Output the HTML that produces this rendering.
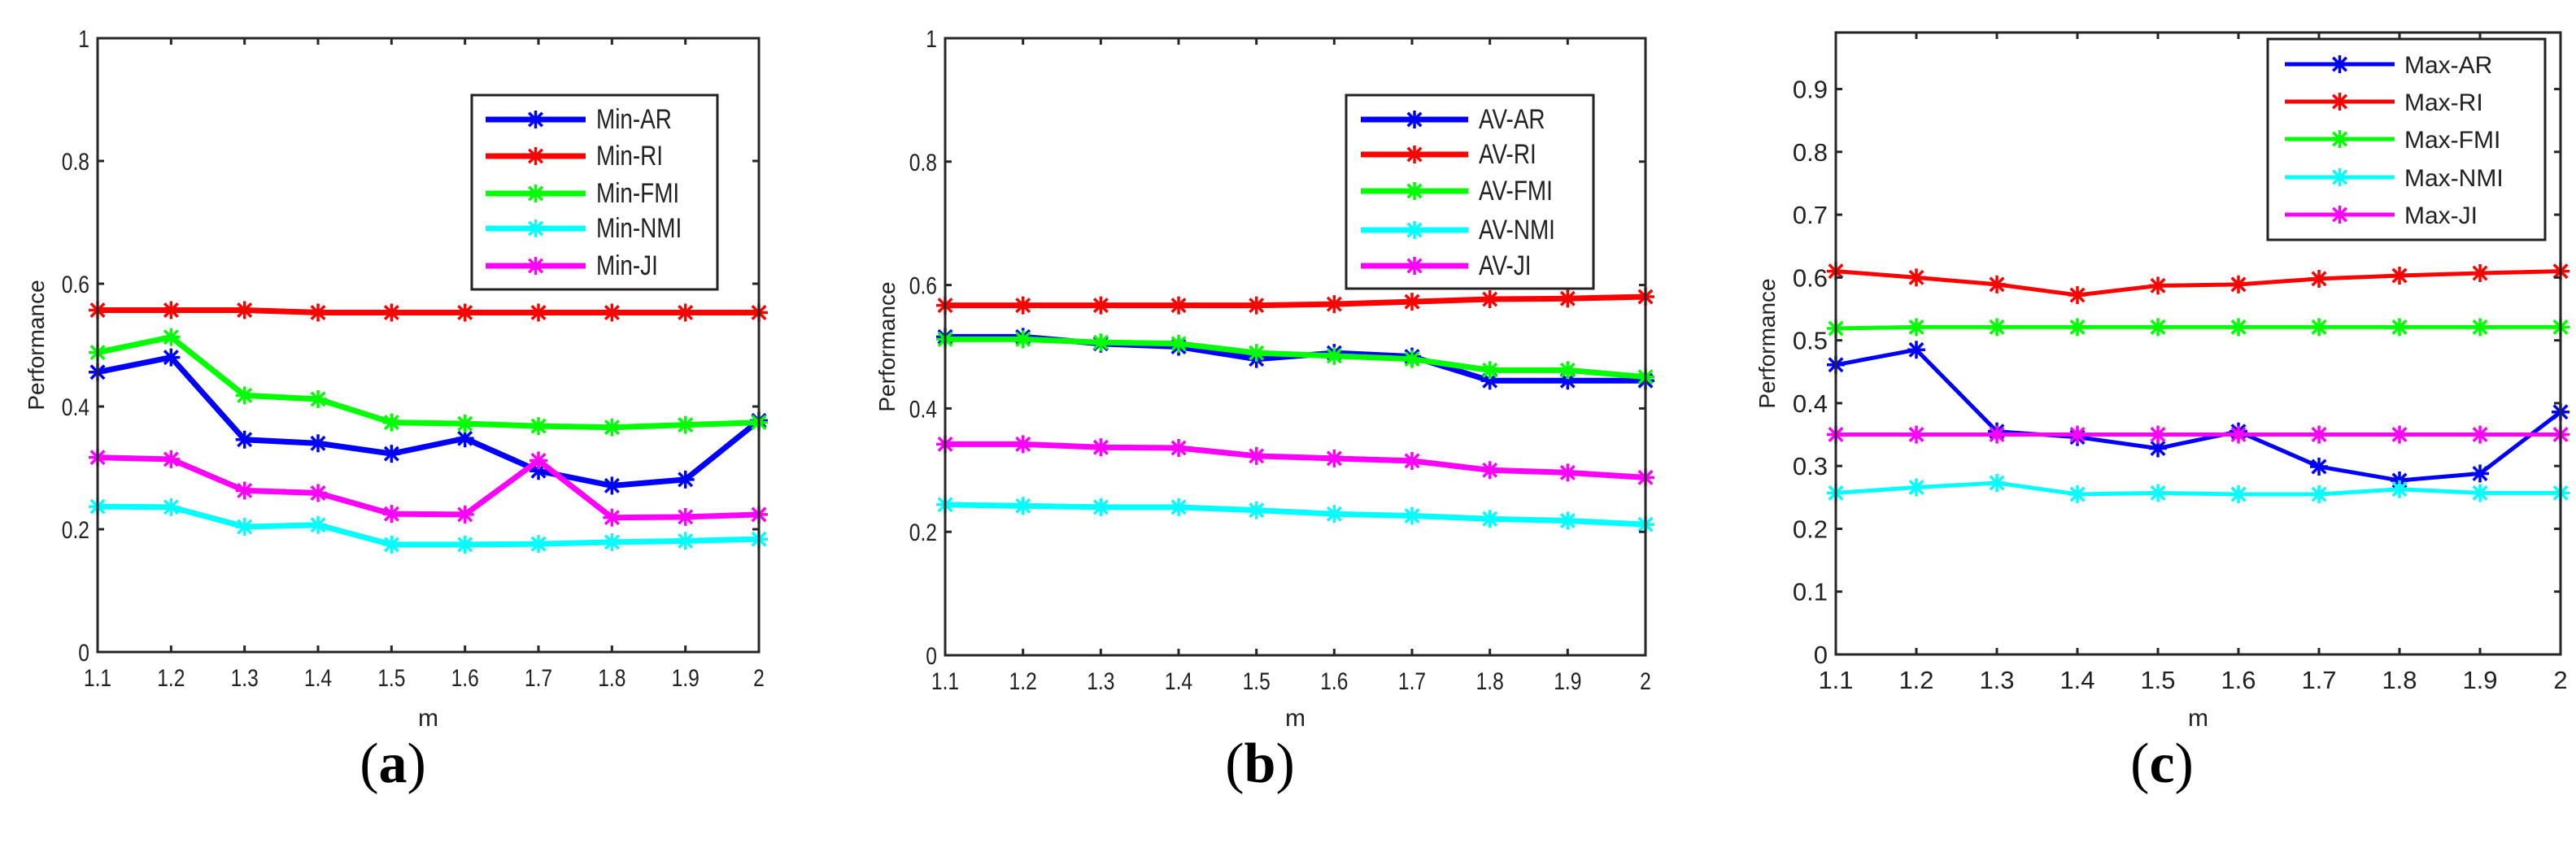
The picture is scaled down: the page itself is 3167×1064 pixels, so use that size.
<!DOCTYPE html>
<html><head><meta charset="utf-8"><style>
html,body{margin:0;padding:0;background:#fff;}
svg{display:block;}
text{font-family:"Liberation Sans",sans-serif;fill:#222;}
.cap{font-family:"Liberation Serif",serif;fill:#000;}
</style></head><body>
<svg id="fig" width="3167" height="1064" viewBox="0 0 3167 1064" xmlns="http://www.w3.org/2000/svg"></svg>
<script>
const categories = [1.1,1.2,1.3,1.4,1.5,1.6,1.7,1.8,1.9,2];
const xTickLabels = ["1.1","1.2","1.3","1.4","1.5","1.6","1.7","1.8","1.9","2"];
const seriesColors = ["#0000ff","#ff0000","#00ff00","#00ffff","#ff00ff"];
const namesA = ["Min-AR","Min-RI","Min-FMI","Min-NMI","Min-JI"];
const namesB = ["AV-AR","AV-RI","AV-FMI","AV-NMI","AV-JI"];
const namesC = ["Max-AR","Max-RI","Max-FMI","Max-NMI","Max-JI"];
const minAR  = [0.456,0.480,0.346,0.340,0.323,0.348,0.295,0.271,0.281,0.377];
const minRI  = [0.557,0.557,0.557,0.553,0.553,0.553,0.553,0.553,0.553,0.553];
const minFMI = [0.488,0.513,0.418,0.412,0.374,0.372,0.368,0.366,0.370,0.374];
const minNMI = [0.237,0.236,0.204,0.207,0.175,0.175,0.176,0.179,0.181,0.184];
const minJI  = [0.317,0.314,0.263,0.259,0.225,0.224,0.312,0.219,0.220,0.224];
const avAR  = [0.516,0.516,0.505,0.500,0.480,0.490,0.484,0.445,0.445,0.445];
const avRI  = [0.567,0.567,0.567,0.567,0.567,0.569,0.573,0.577,0.578,0.581];
const avFMI = [0.512,0.512,0.507,0.505,0.490,0.485,0.480,0.462,0.462,0.451];
const avNMI = [0.244,0.242,0.240,0.240,0.235,0.229,0.226,0.221,0.218,0.212];
const avJI  = [0.342,0.342,0.337,0.336,0.323,0.319,0.315,0.300,0.296,0.288];
const maxAR  = [0.461,0.485,0.355,0.346,0.328,0.355,0.299,0.277,0.288,0.386];
const maxRI  = [0.610,0.600,0.589,0.572,0.587,0.589,0.598,0.603,0.607,0.610];
const maxFMI = [0.519,0.521,0.521,0.521,0.521,0.521,0.521,0.521,0.521,0.521];
const maxNMI = [0.257,0.266,0.273,0.255,0.257,0.255,0.255,0.263,0.257,0.257];
const maxJI  = [0.350,0.350,0.350,0.350,0.350,0.350,0.350,0.350,0.350,0.350];
const yTicksAB = [0,0.2,0.4,0.6,0.8,1];
const yTickLabelsAB = ["0","0.2","0.4","0.6","0.8","1"];
const yTicksC = [0,0.1,0.2,0.3,0.4,0.5,0.6,0.7,0.8,0.9];
const yTickLabelsC = ["0","0.1","0.2","0.3","0.4","0.5","0.6","0.7","0.8","0.9"];

const NS="http://www.w3.org/2000/svg";
const svg=document.getElementById('fig');
function mk(tag,attrs,parent){const e=document.createElementNS(NS,tag);for(const k in attrs)e.setAttribute(k,attrs[k]);(parent||svg).appendChild(e);return e;}

const panels=[
 {id:'a',x0:120,x1:933,yT:47,yB:802,ymax:1,yt:yTicksAB,ytl:yTickLabelsAB,names:namesA,data:[minAR,minRI,minFMI,minNMI,minJI],lw:7,fs:30,sx:0.82,
  leg:{x:580,y:117,w:302,h:239,ly:[147,192,238,281,327],lx0:597,lx1:720,tx:733,fs:34},ylx:44,cap:483},
 {id:'b',x0:1162,x1:2023,yT:47,yB:806,ymax:1,yt:yTicksAB,ytl:yTickLabelsAB,names:namesB,data:[avAR,avRI,avFMI,avNMI,avJI],lw:7,fs:30,sx:0.82,
  leg:{x:1655,y:117,w:304,h:238,ly:[147,190,235,283,327],lx0:1673,lx1:1805,tx:1818,fs:34},ylx:1090,cap:1549},
 {id:'c',x0:2257,x1:3148,yT:40,yB:805,ymax:0.99,yt:yTicksC,ytl:yTickLabelsC,names:namesC,data:[maxAR,maxRI,maxFMI,maxNMI,maxJI],lw:5,fs:31,sx:1,
  leg:{x:2788,y:48,w:341,h:247,ly:[79,125,171,218,264],lx0:2809,lx1:2944,tx:2956,fs:30},ylx:2172,cap:2658}
];

function star(g,x,y,c,r,w){
  const s=r*0.75;
  mk('line',{x1:x-r,y1:y,x2:x+r,y2:y,stroke:c,'stroke-width':w},g);
  mk('line',{x1:x,y1:y-r,x2:x,y2:y+r,stroke:c,'stroke-width':w},g);
  mk('line',{x1:x-s,y1:y-s,x2:x+s,y2:y+s,stroke:c,'stroke-width':w},g);
  mk('line',{x1:x-s,y1:y+s,x2:x+s,y2:y-s,stroke:c,'stroke-width':w},g);
}

panels.forEach(p=>{
  const g=mk('g',{});
  
  
  const xs=v=>p.x0+(v-categories[0])/(categories[categories.length-1]-categories[0])*(p.x1-p.x0);
  const ys=v=>p.yB-v/p.ymax*(p.yB-p.yT);
  p.data.forEach((arr,si)=>{
    const sg=mk('g',{},g);
    
    
    const pts=arr.map((v,i)=>xs(categories[i])+','+ys(v)).join(' ');
    mk('polyline',{points:pts,fill:'none',stroke:seriesColors[si],'stroke-width':p.lw,'stroke-linejoin':'miter'},sg);
    arr.forEach((v,i)=>star(sg,xs(categories[i]),ys(v),seriesColors[si],11,3.5));
  });
  const ax=mk('rect',{x:p.x0,y:p.yT,width:p.x1-p.x0,height:p.yB-p.yT,fill:'none',stroke:'#262626','stroke-width':3},g);
  
  
  categories.forEach((c,i)=>{
    const x=xs(c);
    mk('line',{x1:x,y1:p.yB,x2:x,y2:p.yB-8,stroke:'#262626','stroke-width':3},g);
    mk('line',{x1:x,y1:p.yT,x2:x,y2:p.yT+8,stroke:'#262626','stroke-width':3},g);
    const t=mk('text',{x:x,y:p.yB+42,'font-size':p.fs,'text-anchor':'middle',transform:`translate(${x},0) scale(${p.sx},1) translate(${-x},0)`},g);
    t.textContent=xTickLabels[i];
    
    
  });
  p.yt.forEach((v,i)=>{
    const y=ys(v);
    mk('line',{x1:p.x0,y1:y,x2:p.x0+8,y2:y,stroke:'#262626','stroke-width':3},g);
    mk('line',{x1:p.x1,y1:y,x2:p.x1-8,y2:y,stroke:'#262626','stroke-width':3},g);
    const tx=p.x0-10;
    const t=mk('text',{x:tx,y:y+11,'font-size':p.fs,'text-anchor':'end',transform:`translate(${tx},0) scale(${p.sx},1) translate(${-tx},0)`},g);
    t.textContent=p.ytl[i];
    
    
  });
  const xl=mk('text',{x:(p.x0+p.x1)/2,y:893,'font-size':30,'text-anchor':'middle'},g);
  xl.textContent='m';
  
  
  const cy=(p.yT+p.yB)/2;
  const yl=mk('text',{x:p.ylx,y:cy,'font-size':28,'text-anchor':'middle',transform:`rotate(-90 ${p.ylx} ${cy})`,dy:10},g);
  yl.textContent='Performance';
  
  
  const L=p.leg;
  const lg=mk('g',{},g);
  
  
  mk('rect',{x:L.x,y:L.y,width:L.w,height:L.h,fill:'#fff',stroke:'#222','stroke-width':3},lg);
  p.names.forEach((n,si)=>{
    const eg=mk('g',{},lg);
    
    
    mk('line',{x1:L.lx0,y1:L.ly[si],x2:L.lx1,y2:L.ly[si],stroke:seriesColors[si],'stroke-width':p.lw},eg);
    star(eg,(L.lx0+L.lx1)/2,L.ly[si],seriesColors[si],11,3.5);
    const t=mk('text',{x:L.tx,y:L.ly[si]+11,'font-size':L.fs,transform:`translate(${L.tx},0) scale(${p.sx},1) translate(${-L.tx},0)`},eg);
    t.textContent=n;
  });
  const cp=mk('text',{x:p.cap,y:962,'font-size':70,'text-anchor':'middle',class:'cap'},g);
  
  
  cp.innerHTML='(<tspan font-weight="bold">'+p.id+'</tspan>)';
});
</script>
</body></html>
